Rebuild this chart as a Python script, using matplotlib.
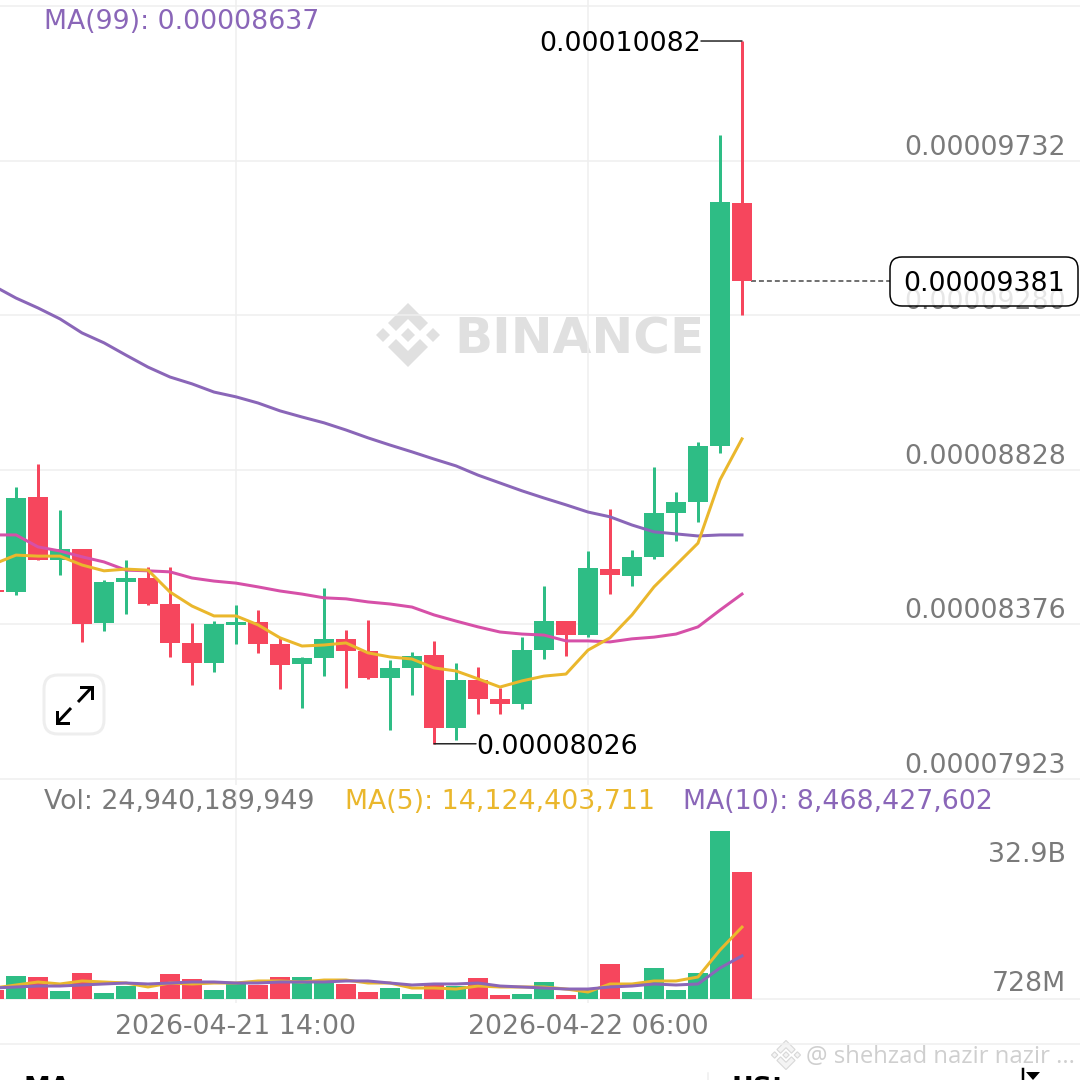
import matplotlib
matplotlib.use("Agg")
import matplotlib.pyplot as plt
from matplotlib.patches import FancyBboxPatch, Polygon

opens = [8476,8470,8748,8564,8596,8379,8499,8511,8435,8321,8262,8374,8382,8318,8259,8277,8333,8298,8219,8248,8286,8072,8213,8157,8142,8300,8385,8344,8537,8517,8573,8701,8733,8897,9608]
closes = [8470,8745,8564,8596,8376,8499,8511,8435,8321,8262,8376,8382,8318,8257,8277,8333,8298,8219,8248,8283,8072,8213,8157,8142,8300,8385,8344,8540,8520,8573,8701,8733,8897,9611,9381]
highs = [8476,8777,8845,8710,8596,8505,8564,8543,8543,8379,8385,8432,8417,8338,8280,8482,8359,8388,8271,8295,8327,8262,8251,8189,8338,8488,8385,8590,8713,8593,8836,8763,8909,9807,10082]
lows = [8470,8461,8564,8520,8324,8356,8406,8432,8280,8198,8236,8318,8292,8186,8131,8224,8189,8216,8066,8169,8026,8037,8113,8113,8128,8274,8283,8338,8464,8488,8567,8619,8675,8877,9280]
ma5 = [8552,8578,8575,8575,8549,8532,8537,8534,8470,8429,8400,8400,8374,8336,8312,8315,8321,8292,8280,8274,8248,8239,8216,8192,8210,8224,8230,8300,8336,8403,8485,8549,8613,8798,8918]
ma25 = [8637,8637,8602,8590,8573,8558,8534,8532,8529,8511,8502,8496,8485,8473,8464,8453,8450,8441,8435,8426,8403,8385,8368,8353,8347,8344,8327,8327,8324,8333,8338,8347,8368,8417,8464]
ma99 = [9365,9330,9301,9269,9228,9199,9163,9128,9099,9079,9055,9041,9023,9000,8982,8965,8944,8921,8900,8880,8859,8839,8812,8789,8766,8745,8725,8704,8690,8666,8646,8640,8634,8637,8637]
volumes = [1.77,4.52,4.32,1.57,5.11,1.18,2.55,1.37,4.91,3.93,1.77,2.95,2.75,4.32,4.32,3.14,2.95,1.37,2.16,0.98,2.75,2.55,4.12,0.79,0.98,3.34,0.79,1.77,6.87,1.37,6.09,1.77,5.11,32.9,24.94]
vol_ma5 = [2.16,2.75,3.34,2.95,3.54,3.34,3.14,2.36,3.14,2.95,3.14,3.14,3.54,3.54,3.34,3.73,3.73,3.14,3.14,2.16,2.16,1.96,2.55,2.36,2.36,2.36,1.96,1.37,2.95,2.95,3.54,3.54,4.32,9.62,14.12]
vol_ma10 = [2.16,2.36,2.55,2.55,2.75,2.95,3.14,2.95,3.14,3.34,3.34,3.14,3.14,3.34,3.34,3.34,3.54,3.54,3.14,2.75,2.95,2.95,3.14,2.55,2.36,2.16,1.96,1.96,2.36,2.55,2.95,2.75,2.95,6.09,8.47]
price_ticks = [7923,8376,8828,9280,9732,10184]
price_tick_labels = ["0.00007923","0.00008376","0.00008828","0.00009280","0.00009732","0.00010184"]
date_ticks = [11,27]
date_labels = ["2026-04-21 14:00","2026-04-22 06:00"]

GREEN="#2EBD85"; RED="#F6465D"; YEL="#EAB72C"; PINK="#D650A8"; PUR="#8A66B8"; GRID="#EFEFEF"; GRAY="#7A7A7A"
plt.rcParams['font.family']=['DejaVu Sans']
PX=0.72
FS=19.3
VA='center_baseline'

fig=plt.figure(figsize=(10.8,10.8),dpi=100,facecolor='white')
ax=fig.add_axes([0,(1080-785)/1080,1,785/1080])
vx=fig.add_axes([0,(1080-1003)/1080,1,(1003-790)/1080])
n=len(opens); xs=list(range(n))
for a in (ax,vx):
    a.set_xlim(0.2727,49.364)
    a.patch.set_alpha(0)
    for s in a.spines.values(): s.set_visible(False)
    a.set_axisbelow(True)
ax.set_ylim(7905.4,10202)
vx.set_ylim(-0.786,41.05)

colors=[GREEN if c>=o else RED for o,c in zip(opens,closes)]
ax.set_xticks(date_ticks); ax.set_xticklabels([])
ax.set_yticks(price_ticks,price_tick_labels)
ax.yaxis.tick_right()
ax.tick_params(axis='both',length=0)
ax.tick_params(axis='y',pad=-10,labelsize=FS,labelcolor=GRAY)
for l in ax.yaxis.get_majorticklabels():
    l.set_ha('right'); l.set_va('bottom')
ax.grid(True,color=GRID,lw=1.5*PX)
ax.vlines(xs,lows,highs,colors=colors,lw=3*PX,zorder=3)
ax.bar(xs,[abs(c-o) for o,c in zip(opens,closes)],bottom=[min(o,c) for o,c in zip(opens,closes)],
       width=0.875,color=colors,zorder=4)
ax.plot(xs,ma99,color=PUR,lw=3*PX,zorder=5)
ax.plot(xs,ma25,color=PINK,lw=3*PX,zorder=6)
ax.plot(xs,ma5,color=YEL,lw=3*PX,zorder=7)
ax.plot([n-1+0.41,(1080-189-1+6)/22],[closes[-1]]*2,color='#444444',lw=1.5*PX,ls=(0,(3.3,2)),zorder=3)

def mark(txt,i,val,dx,ha):
    ax.annotate(txt,xy=(i,val),xytext=(dx,0),textcoords='offset pixels',ha=ha,va=VA,
                fontsize=FS,color='black',zorder=9)
    ax.annotate("",xy=(i,val),xytext=(dx,0),textcoords='offset pixels',zorder=9,
                arrowprops=dict(arrowstyle='-',shrinkA=0,shrinkB=0,lw=1.5*PX,color='#222222'))
hi=highs.index(max(highs)); lo=lows.index(min(lows))
mark("0.00010082",hi,highs[hi],-41,'right')
mark("0.00008026",lo,lows[lo],42,'left')

vx.bar(xs,volumes,width=0.875,color=colors,zorder=3)
vx.plot(xs,vol_ma5,color=YEL,lw=3*PX,zorder=4)
vx.plot(xs,vol_ma10,color=PUR,lw=3*PX,zorder=5)
vx.set_xticks(date_ticks,date_labels)
vx.set_yticks([0],[""])
vx.tick_params(axis='both',length=0)
vx.tick_params(axis='x',pad=8,labelsize=FS,labelcolor=GRAY)
vx.grid(True,color=GRID,lw=1.5*PX)
tr=vx.get_yaxis_transform()
vx.annotate("32.9B",xy=(1,32.9),xycoords=tr,xytext=(-14,-21),textcoords='offset pixels',ha='right',va=VA,fontsize=FS,color=GRAY)
vx.annotate("728M",xy=(1,0.728),xycoords=tr,xytext=(-14,14),textcoords='offset pixels',ha='right',va=VA,fontsize=FS,color=GRAY)

ov=fig.add_axes([0,0,1,1],zorder=10); ov.set_xlim(0,1080); ov.set_ylim(1080,0); ov.axis('off'); ov.patch.set_alpha(0)
ov.text(44,19,"MA(99): 0.00008637",fontsize=FS,color=PUR,va=VA)
ov.text(44,799,"Vol: 24,940,189,949",fontsize=FS,color=GRAY,va=VA)
ov.text(345,799,"MA(5): 14,124,403,711",fontsize=FS,color=YEL,va=VA)
ov.text(683,799,"MA(10): 8,468,427,602",fontsize=FS,color=PUR,va=VA)
ov.add_patch(FancyBboxPatch((890+12,257+12),188-24,49-24,boxstyle="round,pad=12,rounding_size=12",fc=(1,1,1,0.82),ec='black',lw=1.5*PX))
ov.text(1065,281,"0.00009381",fontsize=FS,color='black',ha='right',va=VA)
ov.plot([0,1080],[1043.5,1043.5],color=GRID,lw=1.5*PX)
ov.plot([707.5,707.5],[1073,1080],color=GRID,lw=1.5*PX)
ov.add_patch(FancyBboxPatch((44+14,675+14),60-28,59-28,boxstyle="round,pad=14,rounding_size=14",fc='white',ec='#EEEEEE',lw=3*PX))
for a,b in (((78,702),(92,687)),((71,708),(57,723))):
    ov.plot([a[0],b[0]],[a[1],b[1]],color='black',lw=3*PX,solid_capstyle='butt')
    sx=1 if b[0]>a[0] else -1; sy=1 if b[1]>a[1] else -1
    ov.plot([b[0]-sx*11,b[0],b[0]],[b[1],b[1],b[1]-sy*11],color='black',lw=3*PX,solid_joinstyle='miter')

def logo(axx,cx,cy,s,**kw):
    k=s/33
    def P(pts):
        axx.add_patch(Polygon([(cx+x*k,cy+y*k) for x,y in pts],closed=True,**kw))
    for dx in (-25,0,25):
        P([(dx,-7),(dx+7,0),(dx,7),(dx-7,0)])
    P([(0,-32),(20,-12),(12,-4),(0,-16),(-12,-4),(-20,-12)])
    P([(0,32),(20,12),(12,4),(0,16),(-12,4),(-20,12)])
ovb=fig.add_axes([0,0,1,1],zorder=-1); ovb.set_xlim(0,1080); ovb.set_ylim(1080,0); ovb.axis('off')
logo(ovb,408,335,33,fc='#E0E0E0',ec='none')
ovb.text(454,335,"BINANCE",fontsize=36,fontweight='bold',color='#E0E0E0',ha='left',va=VA)
logo(ov,786,1055,15,fc='#F4F4F4',ec='#D8D8D8',lw=0.8)
ov.text(806,1054,"@ shehzad nazir nazir ...",fontsize=17.2,color='#CFCFCF',va=VA,family=['Open Sans','DejaVu Sans'])
ov.text(24,1076,"MA",fontsize=FS,fontweight='bold',color='black',va='top')
ov.text(731,1076,"USt",fontsize=FS,fontweight='bold',color='black',va='top')
ov.plot([1022.5,1022.5],[1069,1080],color='black',lw=2.5*PX)
ov.add_patch(Polygon([(1026,1072),(1040,1072),(1033,1080)],closed=True,fc='black',ec='none'))
fig.savefig("out.png",dpi=100)
